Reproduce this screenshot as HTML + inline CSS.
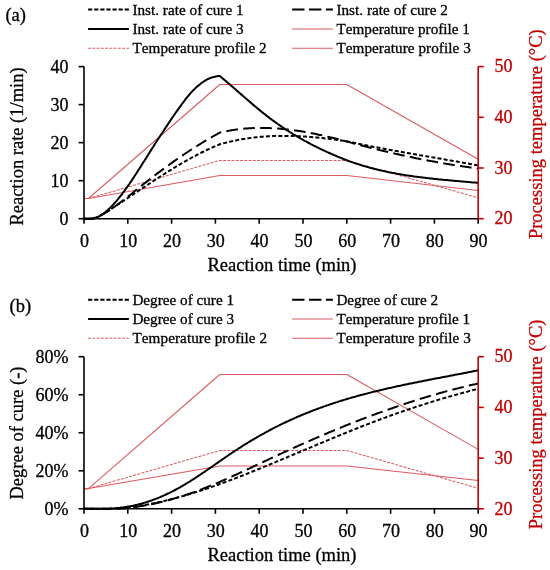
<!DOCTYPE html>
<html><head><meta charset="utf-8"><style>
html,body{margin:0;padding:0;background:#fff;}
svg{display:block;}
text{font-family:'Liberation Serif','Times New Roman',serif;fill:#000;stroke:#000;stroke-width:0.3px;font-kerning:none;}
.rd{stroke:#C00000;}
.tl{font-size:18px;}
.al{font-size:18.5px;}
.lg{font-size:15.2px;}
.rd{fill:#C00000;}
</style></head><body>
<svg width="550" height="570" viewBox="0 0 550 570">
<rect width="550" height="570" fill="#fff"/>
<line x1="88.1" y1="9.6" x2="128.89999999999998" y2="9.6" stroke="#000" stroke-width="2.0" stroke-dasharray="4.2 1.9" fill="none"/>
<text x="132.4" y="14.6" class="lg" textLength="111.21" lengthAdjust="spacing">Inst. rate of cure 1</text>
<line x1="292.1" y1="9.6" x2="332.90000000000003" y2="9.6" stroke="#000" stroke-width="2.0" stroke-dasharray="12.4 4.5" fill="none"/>
<text x="336.4" y="14.6" class="lg" textLength="111.41" lengthAdjust="spacing">Inst. rate of cure 2</text>
<line x1="88.1" y1="28.9" x2="128.89999999999998" y2="28.9" stroke="#000" stroke-width="2.0" fill="none"/>
<text x="132.4" y="33.9" class="lg" textLength="111.31" lengthAdjust="spacing">Inst. rate of cure 3</text>
<line x1="292.1" y1="28.9" x2="332.90000000000003" y2="28.9" stroke="#DC5A60" stroke-width="1.05" fill="none"/>
<text x="336.4" y="33.9" class="lg" textLength="133.55" lengthAdjust="spacing">Temperature profile 1</text>
<line x1="88.1" y1="48.2" x2="128.89999999999998" y2="48.2" stroke="#DC5A60" stroke-width="1.05" stroke-dasharray="2.9 1.35" fill="none"/>
<text x="132.4" y="53.2" class="lg" textLength="134.25" lengthAdjust="spacing">Temperature profile 2</text>
<line x1="292.1" y1="48.2" x2="332.90000000000003" y2="48.2" stroke="#DC5A60" stroke-width="1.05" fill="none"/>
<text x="336.4" y="53.2" class="lg" textLength="134.35" lengthAdjust="spacing">Temperature profile 3</text>
<path d="M84.0,198.5 88.4,198.5 219.8,175.4 346.8,175.4 478.2,190.5" stroke="#DC5A60" stroke-width="1.05" fill="none" stroke-linejoin="round"/>
<path d="M84.0,198.5 88.4,198.5 219.8,160.4 346.8,160.4 478.2,197.8" stroke="#DC5A60" stroke-width="1.05" stroke-dasharray="2.9 1.35" fill="none" stroke-linejoin="round"/>
<path d="M84.0,198.5 88.4,198.5 219.8,84.5 346.8,84.5 478.2,159.3" stroke="#DC5A60" stroke-width="1.05" fill="none" stroke-linejoin="round"/>
<path d="M84.0,218.7 85.0,218.7 86.0,218.7 87.0,218.7 88.0,218.7 89.0,218.7 90.0,218.7 91.0,218.7 92.0,218.7 93.1,218.5 94.1,218.2 95.1,217.9 96.1,217.5 97.1,217.1 98.1,216.7 99.1,216.2 100.1,215.7 101.1,215.2 102.1,214.6 103.1,214.1 104.1,213.5 105.1,212.9 106.1,212.2 107.1,211.6 108.1,210.9 109.1,210.3 110.2,209.6 111.2,208.9 112.2,208.3 113.2,207.6 114.2,206.9 115.2,206.3 116.2,205.6 117.2,204.9 118.2,204.3 119.2,203.6 120.2,202.9 121.2,202.3 122.2,201.6 123.2,200.9 124.2,200.3 125.2,199.6 126.2,198.9 127.3,198.3 128.3,197.6 129.3,196.9 130.3,196.3 131.3,195.6 132.3,194.9 133.3,194.3 134.3,193.6 135.3,192.9 136.3,192.3 137.3,191.6 138.3,190.9 139.3,190.3 140.3,189.6 141.3,188.9 142.3,188.3 143.3,187.6 144.4,186.9 145.4,186.3 146.4,185.6 147.4,184.9 148.4,184.3 149.4,183.6 150.4,183.0 151.4,182.3 152.4,181.6 153.4,181.0 154.4,180.3 155.4,179.7 156.4,179.0 157.4,178.4 158.4,177.7 159.4,177.1 160.5,176.4 161.5,175.8 162.5,175.1 163.5,174.5 164.5,173.9 165.5,173.2 166.5,172.6 167.5,172.0 168.5,171.3 169.5,170.7 170.5,170.1 171.5,169.5 172.5,168.8 173.5,168.2 174.5,167.6 175.5,167.0 176.5,166.4 177.6,165.8 178.6,165.2 179.6,164.6 180.6,164.0 181.6,163.4 182.6,162.8 183.6,162.2 184.6,161.7 185.6,161.1 186.6,160.5 187.6,160.0 188.6,159.4 189.6,158.8 190.6,158.3 191.6,157.7 192.6,157.2 193.6,156.6 194.7,156.1 195.7,155.6 196.7,155.0 197.7,154.5 198.7,154.0 199.7,153.5 200.7,153.0 201.7,152.5 202.7,152.0 203.7,151.5 204.7,151.0 205.7,150.5 206.7,150.0 207.7,149.5 208.7,149.1 209.7,148.6 210.7,148.1 211.8,147.7 212.8,147.2 213.8,146.8 214.8,146.4 215.8,145.9 216.8,145.5 217.8,145.1 218.8,144.7 219.8,144.3 220.8,144.0 221.8,143.7 222.8,143.5 223.8,143.2 224.8,142.9 225.8,142.7 226.8,142.4 227.8,142.2 228.8,142.0 229.8,141.7 230.8,141.5 231.8,141.3 232.8,141.0 233.8,140.8 234.8,140.6 235.8,140.4 236.8,140.2 237.8,140.0 238.8,139.8 239.8,139.7 240.8,139.5 241.8,139.3 242.8,139.1 243.8,139.0 244.8,138.8 245.8,138.6 246.8,138.5 247.8,138.3 248.8,138.2 249.8,138.1 250.8,137.9 251.8,137.8 252.8,137.7 253.8,137.6 254.8,137.4 255.8,137.3 256.8,137.2 257.8,137.1 258.8,137.0 259.8,136.9 260.8,136.8 261.8,136.8 262.8,136.7 263.8,136.6 264.8,136.5 265.8,136.5 266.8,136.4 267.8,136.3 268.8,136.3 269.8,136.2 270.8,136.2 271.8,136.1 272.8,136.1 273.8,136.0 274.8,136.0 275.8,136.0 276.8,136.0 277.8,135.9 278.8,135.9 279.8,135.9 280.8,135.9 281.8,135.9 282.8,135.9 283.8,135.9 284.8,135.9 285.8,135.9 286.8,135.9 287.8,135.9 288.8,135.9 289.8,135.9 290.8,135.9 291.8,136.0 292.8,136.0 293.8,136.0 294.8,136.1 295.8,136.1 296.8,136.1 297.8,136.2 298.8,136.2 299.8,136.3 300.8,136.3 301.8,136.4 302.8,136.4 303.8,136.5 304.8,136.6 305.8,136.6 306.8,136.7 307.8,136.8 308.8,136.8 309.8,136.9 310.8,137.0 311.8,137.1 312.8,137.2 313.8,137.2 314.8,137.3 315.8,137.4 316.8,137.5 317.8,137.6 318.8,137.7 319.8,137.8 320.8,137.9 321.8,138.0 322.8,138.1 323.8,138.2 324.8,138.4 325.8,138.5 326.8,138.6 327.8,138.7 328.8,138.8 329.8,138.9 330.8,139.1 331.8,139.2 332.8,139.3 333.8,139.5 334.8,139.6 335.8,139.7 336.8,139.9 337.8,140.0 338.8,140.1 339.8,140.3 340.8,140.4 341.8,140.6 342.8,140.7 343.8,140.8 344.8,141.0 345.8,141.1 346.8,141.3 347.8,141.5 348.8,141.7 349.8,142.0 350.8,142.2 351.8,142.4 352.8,142.6 353.8,142.8 354.8,143.0 355.8,143.2 356.8,143.4 357.8,143.7 358.8,143.9 359.8,144.1 360.8,144.3 361.8,144.5 362.8,144.7 363.9,144.9 364.9,145.1 365.9,145.3 366.9,145.5 367.9,145.7 368.9,145.9 369.9,146.1 370.9,146.3 371.9,146.5 372.9,146.7 373.9,146.9 374.9,147.1 375.9,147.3 376.9,147.4 377.9,147.6 378.9,147.8 379.9,148.0 380.9,148.2 381.9,148.4 382.9,148.6 383.9,148.8 384.9,149.0 385.9,149.1 386.9,149.3 387.9,149.5 388.9,149.7 389.9,149.9 390.9,150.1 391.9,150.2 392.9,150.4 393.9,150.6 394.9,150.8 395.9,151.0 397.0,151.1 398.0,151.3 399.0,151.5 400.0,151.7 401.0,151.9 402.0,152.0 403.0,152.2 404.0,152.4 405.0,152.6 406.0,152.7 407.0,152.9 408.0,153.1 409.0,153.3 410.0,153.5 411.0,153.6 412.0,153.8 413.0,154.0 414.0,154.1 415.0,154.3 416.0,154.5 417.0,154.7 418.0,154.8 419.0,155.0 420.0,155.2 421.0,155.4 422.0,155.5 423.0,155.7 424.0,155.9 425.0,156.1 426.0,156.2 427.0,156.4 428.0,156.6 429.1,156.7 430.1,156.9 431.1,157.1 432.1,157.3 433.1,157.4 434.1,157.6 435.1,157.8 436.1,158.0 437.1,158.1 438.1,158.3 439.1,158.5 440.1,158.6 441.1,158.8 442.1,159.0 443.1,159.2 444.1,159.3 445.1,159.5 446.1,159.7 447.1,159.9 448.1,160.0 449.1,160.2 450.1,160.4 451.1,160.6 452.1,160.7 453.1,160.9 454.1,161.1 455.1,161.3 456.1,161.5 457.1,161.6 458.1,161.8 459.1,162.0 460.1,162.2 461.1,162.4 462.2,162.5 463.2,162.7 464.2,162.9 465.2,163.1 466.2,163.3 467.2,163.4 468.2,163.6 469.2,163.8 470.2,164.0 471.2,164.2 472.2,164.4 473.2,164.6 474.2,164.7 475.2,164.9 476.2,165.1 477.2,165.3 478.2,165.5" stroke="#000" stroke-width="2.0" stroke-dasharray="4.0 2.2" fill="none" stroke-dashoffset="1.35" stroke-linejoin="round"/>
<path d="M84.0,218.7 85.0,218.7 86.0,218.7 87.0,218.7 88.0,218.7 89.0,218.7 90.0,218.7 91.0,218.6 92.0,218.4 93.1,218.2 94.1,217.9 95.1,217.6 96.1,217.3 97.1,216.9 98.1,216.5 99.1,216.1 100.1,215.6 101.1,215.2 102.1,214.6 103.1,214.1 104.1,213.5 105.1,213.0 106.1,212.4 107.1,211.7 108.1,211.1 109.1,210.5 110.2,209.8 111.2,209.1 112.2,208.4 113.2,207.7 114.2,207.0 115.2,206.3 116.2,205.6 117.2,204.8 118.2,204.1 119.2,203.4 120.2,202.6 121.2,201.8 122.2,201.1 123.2,200.3 124.2,199.5 125.2,198.7 126.2,198.0 127.3,197.2 128.3,196.4 129.3,195.6 130.3,194.8 131.3,194.0 132.3,193.2 133.3,192.4 134.3,191.5 135.3,190.7 136.3,189.9 137.3,189.1 138.3,188.3 139.3,187.5 140.3,186.7 141.3,185.9 142.3,185.1 143.3,184.3 144.4,183.5 145.4,182.7 146.4,181.9 147.4,181.1 148.4,180.3 149.4,179.6 150.4,178.8 151.4,178.0 152.4,177.2 153.4,176.5 154.4,175.7 155.4,174.9 156.4,174.2 157.4,173.4 158.4,172.6 159.4,171.9 160.5,171.1 161.5,170.4 162.5,169.6 163.5,168.9 164.5,168.2 165.5,167.4 166.5,166.7 167.5,166.0 168.5,165.2 169.5,164.5 170.5,163.8 171.5,163.1 172.5,162.3 173.5,161.6 174.5,160.9 175.5,160.2 176.5,159.5 177.6,158.8 178.6,158.1 179.6,157.4 180.6,156.7 181.6,156.0 182.6,155.4 183.6,154.7 184.6,154.0 185.6,153.3 186.6,152.7 187.6,152.0 188.6,151.3 189.6,150.7 190.6,150.0 191.6,149.4 192.6,148.7 193.6,148.1 194.7,147.4 195.7,146.8 196.7,146.2 197.7,145.5 198.7,144.9 199.7,144.3 200.7,143.7 201.7,143.0 202.7,142.4 203.7,141.8 204.7,141.2 205.7,140.6 206.7,140.0 207.7,139.4 208.7,138.8 209.7,138.2 210.7,137.7 211.8,137.1 212.8,136.5 213.8,135.9 214.8,135.4 215.8,134.8 216.8,134.3 217.8,133.7 218.8,133.1 219.8,132.6 220.8,132.4 221.8,132.1 222.8,131.9 223.8,131.7 224.8,131.5 225.8,131.3 226.8,131.1 227.8,130.9 228.8,130.7 229.8,130.6 230.8,130.4 231.8,130.2 232.8,130.1 233.8,129.9 234.8,129.8 235.8,129.6 236.8,129.5 237.8,129.4 238.8,129.3 239.8,129.1 240.8,129.0 241.8,128.9 242.8,128.8 243.8,128.7 244.8,128.6 245.8,128.6 246.8,128.5 247.8,128.4 248.8,128.3 249.8,128.3 250.8,128.2 251.8,128.2 252.8,128.1 253.8,128.1 254.8,128.1 255.8,128.0 256.8,128.0 257.8,128.0 258.8,128.0 259.8,127.9 260.8,127.9 261.8,127.9 262.8,127.9 263.8,128.0 264.8,128.0 265.8,128.0 266.8,128.0 267.8,128.0 268.8,128.1 269.8,128.1 270.8,128.2 271.8,128.2 272.8,128.2 273.8,128.3 274.8,128.4 275.8,128.4 276.8,128.5 277.8,128.6 278.8,128.6 279.8,128.7 280.8,128.8 281.8,128.9 282.8,129.0 283.8,129.1 284.8,129.2 285.8,129.3 286.8,129.4 287.8,129.5 288.8,129.6 289.8,129.7 290.8,129.9 291.8,130.0 292.8,130.1 293.8,130.3 294.8,130.4 295.8,130.5 296.8,130.7 297.8,130.8 298.8,131.0 299.8,131.1 300.8,131.3 301.8,131.5 302.8,131.6 303.8,131.8 304.8,132.0 305.8,132.1 306.8,132.3 307.8,132.5 308.8,132.7 309.8,132.9 310.8,133.1 311.8,133.2 312.8,133.4 313.8,133.6 314.8,133.8 315.8,134.0 316.8,134.2 317.8,134.5 318.8,134.7 319.8,134.9 320.8,135.1 321.8,135.3 322.8,135.5 323.8,135.8 324.8,136.0 325.8,136.2 326.8,136.5 327.8,136.7 328.8,136.9 329.8,137.2 330.8,137.4 331.8,137.6 332.8,137.9 333.8,138.1 334.8,138.4 335.8,138.6 336.8,138.9 337.8,139.1 338.8,139.4 339.8,139.6 340.8,139.9 341.8,140.2 342.8,140.4 343.8,140.7 344.8,141.0 345.8,141.2 346.8,141.5 347.8,141.8 348.8,142.1 349.8,142.3 350.8,142.6 351.8,142.9 352.8,143.2 353.8,143.4 354.8,143.7 355.8,144.0 356.8,144.2 357.8,144.5 358.8,144.8 359.8,145.0 360.8,145.3 361.8,145.6 362.8,145.8 363.9,146.1 364.9,146.4 365.9,146.6 366.9,146.9 367.9,147.1 368.9,147.4 369.9,147.6 370.9,147.9 371.9,148.1 372.9,148.4 373.9,148.6 374.9,148.9 375.9,149.1 376.9,149.4 377.9,149.6 378.9,149.9 379.9,150.1 380.9,150.4 381.9,150.6 382.9,150.9 383.9,151.1 384.9,151.3 385.9,151.6 386.9,151.8 387.9,152.0 388.9,152.3 389.9,152.5 390.9,152.7 391.9,153.0 392.9,153.2 393.9,153.4 394.9,153.6 395.9,153.9 397.0,154.1 398.0,154.3 399.0,154.5 400.0,154.8 401.0,155.0 402.0,155.2 403.0,155.4 404.0,155.6 405.0,155.9 406.0,156.1 407.0,156.3 408.0,156.5 409.0,156.7 410.0,156.9 411.0,157.1 412.0,157.3 413.0,157.5 414.0,157.7 415.0,157.9 416.0,158.2 417.0,158.4 418.0,158.6 419.0,158.8 420.0,159.0 421.0,159.2 422.0,159.3 423.0,159.5 424.0,159.7 425.0,159.9 426.0,160.1 427.0,160.3 428.0,160.5 429.1,160.7 430.1,160.9 431.1,161.1 432.1,161.2 433.1,161.4 434.1,161.6 435.1,161.8 436.1,162.0 437.1,162.2 438.1,162.3 439.1,162.5 440.1,162.7 441.1,162.9 442.1,163.0 443.1,163.2 444.1,163.4 445.1,163.5 446.1,163.7 447.1,163.9 448.1,164.0 449.1,164.2 450.1,164.4 451.1,164.5 452.1,164.7 453.1,164.9 454.1,165.0 455.1,165.2 456.1,165.3 457.1,165.5 458.1,165.6 459.1,165.8 460.1,166.0 461.1,166.1 462.2,166.3 463.2,166.4 464.2,166.6 465.2,166.7 466.2,166.8 467.2,167.0 468.2,167.1 469.2,167.3 470.2,167.4 471.2,167.6 472.2,167.7 473.2,167.8 474.2,168.0 475.2,168.1 476.2,168.2 477.2,168.4 478.2,168.5" stroke="#000" stroke-width="2.0" stroke-dasharray="11.7 5.3" fill="none" stroke-dashoffset="0.65" stroke-linejoin="round"/>
<path d="M84.0,218.7 85.0,218.7 86.0,218.7 87.0,218.7 88.0,218.7 89.0,218.7 90.0,218.7 91.0,218.7 92.0,218.7 93.1,218.7 94.1,218.5 95.1,218.1 96.1,217.7 97.1,217.3 98.1,216.8 99.1,216.3 100.1,215.8 101.1,215.1 102.1,214.5 103.1,213.8 104.1,213.0 105.1,212.3 106.1,211.4 107.1,210.6 108.1,209.7 109.1,208.7 110.2,207.8 111.2,206.8 112.2,205.7 113.2,204.6 114.2,203.5 115.2,202.4 116.2,201.3 117.2,200.1 118.2,198.9 119.2,197.6 120.2,196.4 121.2,195.1 122.2,193.8 123.2,192.4 124.2,191.1 125.2,189.7 126.2,188.3 127.3,186.9 128.3,185.4 129.3,184.0 130.3,182.5 131.3,181.1 132.3,179.6 133.3,178.0 134.3,176.5 135.3,175.0 136.3,173.5 137.3,171.9 138.3,170.3 139.3,168.8 140.3,167.2 141.3,165.6 142.3,164.0 143.3,162.4 144.4,160.8 145.4,159.2 146.4,157.6 147.4,156.0 148.4,154.4 149.4,152.8 150.4,151.2 151.4,149.6 152.4,148.0 153.4,146.5 154.4,144.9 155.4,143.3 156.4,141.7 157.4,140.2 158.4,138.6 159.4,137.1 160.5,135.5 161.5,134.0 162.5,132.5 163.5,131.0 164.5,129.4 165.5,127.9 166.5,126.4 167.5,124.9 168.5,123.4 169.5,121.9 170.5,120.4 171.5,118.9 172.5,117.4 173.5,116.0 174.5,114.5 175.5,113.0 176.5,111.6 177.6,110.1 178.6,108.7 179.6,107.3 180.6,105.9 181.6,104.5 182.6,103.1 183.6,101.8 184.6,100.5 185.6,99.2 186.6,97.9 187.6,96.7 188.6,95.5 189.6,94.3 190.6,93.1 191.6,92.0 192.6,91.0 193.6,89.9 194.7,88.9 195.7,87.9 196.7,87.0 197.7,86.1 198.7,85.3 199.7,84.4 200.7,83.7 201.7,82.9 202.7,82.2 203.7,81.5 204.7,80.9 205.7,80.3 206.7,79.7 207.7,79.2 208.7,78.7 209.7,78.3 210.7,77.9 211.8,77.5 212.8,77.2 213.8,76.9 214.8,76.7 215.8,76.4 216.8,76.3 217.8,76.1 218.8,76.1 219.8,76.0 220.8,76.8 221.8,77.7 222.8,78.5 223.8,79.4 224.8,80.2 225.8,81.1 226.8,81.9 227.8,82.8 228.8,83.6 229.8,84.5 230.8,85.4 231.8,86.2 232.8,87.1 233.8,88.0 234.8,88.8 235.8,89.7 236.8,90.6 237.8,91.4 238.8,92.3 239.8,93.2 240.8,94.1 241.8,94.9 242.8,95.8 243.8,96.7 244.8,97.5 245.8,98.4 246.8,99.3 247.8,100.1 248.8,101.0 249.8,101.8 250.8,102.7 251.8,103.6 252.8,104.4 253.8,105.3 254.8,106.1 255.8,106.9 256.8,107.8 257.8,108.6 258.8,109.4 259.8,110.3 260.8,111.1 261.8,111.9 262.8,112.7 263.8,113.5 264.8,114.3 265.8,115.1 266.8,115.9 267.8,116.6 268.8,117.4 269.8,118.2 270.8,118.9 271.8,119.7 272.8,120.4 273.8,121.1 274.8,121.9 275.8,122.6 276.8,123.3 277.8,124.0 278.8,124.7 279.8,125.4 280.8,126.1 281.8,126.8 282.8,127.5 283.8,128.1 284.8,128.8 285.8,129.5 286.8,130.1 287.8,130.7 288.8,131.4 289.8,132.0 290.8,132.6 291.8,133.3 292.8,133.9 293.8,134.5 294.8,135.1 295.8,135.7 296.8,136.3 297.8,136.9 298.8,137.5 299.8,138.0 300.8,138.6 301.8,139.2 302.8,139.7 303.8,140.3 304.8,140.9 305.8,141.4 306.8,141.9 307.8,142.5 308.8,143.0 309.8,143.5 310.8,144.1 311.8,144.6 312.8,145.1 313.8,145.6 314.8,146.1 315.8,146.6 316.8,147.1 317.8,147.6 318.8,148.1 319.8,148.6 320.8,149.1 321.8,149.5 322.8,150.0 323.8,150.5 324.8,150.9 325.8,151.4 326.8,151.9 327.8,152.3 328.8,152.8 329.8,153.2 330.8,153.6 331.8,154.1 332.8,154.5 333.8,155.0 334.8,155.4 335.8,155.8 336.8,156.2 337.8,156.7 338.8,157.1 339.8,157.5 340.8,157.9 341.8,158.3 342.8,158.7 343.8,159.1 344.8,159.5 345.8,159.9 346.8,160.3 347.8,160.7 348.8,161.0 349.8,161.4 350.8,161.7 351.8,162.1 352.8,162.4 353.8,162.8 354.8,163.1 355.8,163.5 356.8,163.8 357.8,164.1 358.8,164.4 359.8,164.7 360.8,165.0 361.8,165.4 362.8,165.7 363.9,166.0 364.9,166.2 365.9,166.5 366.9,166.8 367.9,167.1 368.9,167.4 369.9,167.7 370.9,167.9 371.9,168.2 372.9,168.4 373.9,168.7 374.9,169.0 375.9,169.2 376.9,169.5 377.9,169.7 378.9,169.9 379.9,170.2 380.9,170.4 381.9,170.6 382.9,170.9 383.9,171.1 384.9,171.3 385.9,171.5 386.9,171.7 387.9,171.9 388.9,172.2 389.9,172.4 390.9,172.6 391.9,172.8 392.9,172.9 393.9,173.1 394.9,173.3 395.9,173.5 397.0,173.7 398.0,173.9 399.0,174.1 400.0,174.2 401.0,174.4 402.0,174.6 403.0,174.7 404.0,174.9 405.0,175.1 406.0,175.2 407.0,175.4 408.0,175.5 409.0,175.7 410.0,175.8 411.0,176.0 412.0,176.1 413.0,176.3 414.0,176.4 415.0,176.6 416.0,176.7 417.0,176.8 418.0,177.0 419.0,177.1 420.0,177.2 421.0,177.3 422.0,177.5 423.0,177.6 424.0,177.7 425.0,177.8 426.0,178.0 427.0,178.1 428.0,178.2 429.1,178.3 430.1,178.4 431.1,178.5 432.1,178.6 433.1,178.7 434.1,178.9 435.1,179.0 436.1,179.1 437.1,179.2 438.1,179.3 439.1,179.4 440.1,179.5 441.1,179.6 442.1,179.7 443.1,179.8 444.1,179.9 445.1,180.0 446.1,180.1 447.1,180.1 448.1,180.2 449.1,180.3 450.1,180.4 451.1,180.5 452.1,180.6 453.1,180.7 454.1,180.8 455.1,180.9 456.1,181.0 457.1,181.1 458.1,181.1 459.1,181.2 460.1,181.3 461.1,181.4 462.2,181.5 463.2,181.6 464.2,181.7 465.2,181.8 466.2,181.8 467.2,181.9 468.2,182.0 469.2,182.1 470.2,182.2 471.2,182.3 472.2,182.4 473.2,182.5 474.2,182.5 475.2,182.6 476.2,182.7 477.2,182.8 478.2,182.9" stroke="#000" stroke-width="2.0" fill="none" stroke-linejoin="round"/>
<path d="M84.0,66.6V218.7H478.2" stroke="#000" stroke-width="1.6" fill="none"/>
<line x1="78.6" y1="218.70" x2="84.0" y2="218.70" stroke="#000" stroke-width="1.6"/>
<text x="68.4" y="224.80" text-anchor="end" class="tl">0</text>
<line x1="78.6" y1="180.67" x2="84.0" y2="180.67" stroke="#000" stroke-width="1.6"/>
<text x="68.4" y="186.77" text-anchor="end" class="tl">10</text>
<line x1="78.6" y1="142.65" x2="84.0" y2="142.65" stroke="#000" stroke-width="1.6"/>
<text x="68.4" y="148.75" text-anchor="end" class="tl">20</text>
<line x1="78.6" y1="104.62" x2="84.0" y2="104.62" stroke="#000" stroke-width="1.6"/>
<text x="68.4" y="110.72" text-anchor="end" class="tl">30</text>
<line x1="78.6" y1="66.60" x2="84.0" y2="66.60" stroke="#000" stroke-width="1.6"/>
<text x="68.4" y="72.70" text-anchor="end" class="tl">40</text>
<line x1="84.00" y1="218.7" x2="84.00" y2="223.7" stroke="#000" stroke-width="1.6"/>
<text x="84.40" y="246.80" text-anchor="middle" class="tl">0</text>
<line x1="127.80" y1="218.7" x2="127.80" y2="223.7" stroke="#000" stroke-width="1.6"/>
<text x="128.20" y="246.80" text-anchor="middle" class="tl">10</text>
<line x1="171.60" y1="218.7" x2="171.60" y2="223.7" stroke="#000" stroke-width="1.6"/>
<text x="172.00" y="246.80" text-anchor="middle" class="tl">20</text>
<line x1="215.40" y1="218.7" x2="215.40" y2="223.7" stroke="#000" stroke-width="1.6"/>
<text x="215.80" y="246.80" text-anchor="middle" class="tl">30</text>
<line x1="259.20" y1="218.7" x2="259.20" y2="223.7" stroke="#000" stroke-width="1.6"/>
<text x="259.60" y="246.80" text-anchor="middle" class="tl">40</text>
<line x1="303.00" y1="218.7" x2="303.00" y2="223.7" stroke="#000" stroke-width="1.6"/>
<text x="303.40" y="246.80" text-anchor="middle" class="tl">50</text>
<line x1="346.80" y1="218.7" x2="346.80" y2="223.7" stroke="#000" stroke-width="1.6"/>
<text x="347.20" y="246.80" text-anchor="middle" class="tl">60</text>
<line x1="390.60" y1="218.7" x2="390.60" y2="223.7" stroke="#000" stroke-width="1.6"/>
<text x="391.00" y="246.80" text-anchor="middle" class="tl">70</text>
<line x1="434.40" y1="218.7" x2="434.40" y2="223.7" stroke="#000" stroke-width="1.6"/>
<text x="434.80" y="246.80" text-anchor="middle" class="tl">80</text>
<line x1="478.20" y1="218.7" x2="478.20" y2="223.7" stroke="#000" stroke-width="1.6"/>
<text x="478.60" y="246.80" text-anchor="middle" class="tl">90</text>
<text x="282" y="270.5" text-anchor="middle" class="al">Reaction time (min)</text>
<line x1="478.2" y1="66.6" x2="478.2" y2="218.7" stroke="#C00000" stroke-width="1.6"/>
<line x1="478.2" y1="218.70" x2="483.8" y2="218.70" stroke="#C00000" stroke-width="1.6"/>
<text x="494.59999999999997" y="224.40" class="tl rd">20</text>
<line x1="478.2" y1="168.00" x2="483.8" y2="168.00" stroke="#C00000" stroke-width="1.6"/>
<text x="494.59999999999997" y="173.70" class="tl rd">30</text>
<line x1="478.2" y1="117.30" x2="483.8" y2="117.30" stroke="#C00000" stroke-width="1.6"/>
<text x="494.59999999999997" y="123.00" class="tl rd">40</text>
<line x1="478.2" y1="66.60" x2="483.8" y2="66.60" stroke="#C00000" stroke-width="1.6"/>
<text x="494.59999999999997" y="72.30" class="tl rd">50</text>
<text transform="translate(542,134.2) rotate(-90)" text-anchor="middle" class="al rd">Processing temperature (°C)</text>
<text transform="translate(23,146.5) rotate(-90)" text-anchor="middle" class="al">Reaction rate (1/min)</text>
<text x="5.4" y="20.8" class="al">(a)</text>
<line x1="88.1" y1="299.7" x2="128.89999999999998" y2="299.7" stroke="#000" stroke-width="2.0" stroke-dasharray="4.2 1.9" fill="none"/>
<text x="132.4" y="304.7" class="lg" textLength="101.62" lengthAdjust="spacing">Degree of cure 1</text>
<line x1="292.1" y1="299.7" x2="332.90000000000003" y2="299.7" stroke="#000" stroke-width="2.0" stroke-dasharray="12.4 4.5" fill="none"/>
<text x="336.4" y="304.7" class="lg" textLength="101.62" lengthAdjust="spacing">Degree of cure 2</text>
<line x1="88.1" y1="319.0" x2="128.89999999999998" y2="319.0" stroke="#000" stroke-width="2.0" fill="none"/>
<text x="132.4" y="324.0" class="lg" textLength="101.62" lengthAdjust="spacing">Degree of cure 3</text>
<line x1="292.1" y1="319.0" x2="332.90000000000003" y2="319.0" stroke="#DC5A60" stroke-width="1.05" fill="none"/>
<text x="336.4" y="324.0" class="lg" textLength="133.75" lengthAdjust="spacing">Temperature profile 1</text>
<line x1="88.1" y1="338.3" x2="128.89999999999998" y2="338.3" stroke="#DC5A60" stroke-width="1.05" stroke-dasharray="2.9 1.35" fill="none"/>
<text x="132.4" y="343.3" class="lg" textLength="134.75" lengthAdjust="spacing">Temperature profile 2</text>
<line x1="292.1" y1="338.3" x2="332.90000000000003" y2="338.3" stroke="#DC5A60" stroke-width="1.05" fill="none"/>
<text x="336.4" y="343.3" class="lg" textLength="134.35" lengthAdjust="spacing">Temperature profile 3</text>
<path d="M84.0,488.6 88.4,488.6 219.8,465.9 346.8,465.9 478.2,480.6" stroke="#DC5A60" stroke-width="1.05" fill="none" stroke-linejoin="round"/>
<path d="M84.0,488.6 88.4,488.6 219.8,450.5 346.8,450.5 478.2,488.3" stroke="#DC5A60" stroke-width="1.05" stroke-dasharray="2.9 1.35" fill="none" stroke-linejoin="round"/>
<path d="M84.0,488.6 88.4,488.6 219.8,374.5 346.8,374.5 478.2,449.4" stroke="#DC5A60" stroke-width="1.05" fill="none" stroke-linejoin="round"/>
<path d="M84.0,508.8 85.0,508.8 86.0,508.8 87.0,508.8 88.0,508.8 89.0,508.8 90.0,508.8 91.0,508.8 92.0,508.8 93.0,508.8 94.0,508.8 95.0,508.8 96.0,508.8 97.0,508.8 98.0,508.8 99.0,508.8 100.0,508.8 101.0,508.8 102.0,508.8 103.0,508.8 104.0,508.8 105.0,508.8 106.0,508.8 107.0,508.8 108.0,508.8 109.0,508.8 110.0,508.8 111.0,508.8 112.0,508.8 113.0,508.8 114.0,508.7 115.0,508.7 116.0,508.6 117.0,508.5 118.0,508.4 119.0,508.4 120.0,508.3 121.0,508.2 122.0,508.1 123.0,508.0 124.0,507.9 125.0,507.8 126.0,507.7 127.0,507.6 128.0,507.4 129.0,507.3 130.0,507.2 131.0,507.1 132.0,506.9 133.0,506.8 134.0,506.7 135.0,506.5 136.0,506.4 137.0,506.2 138.0,506.1 139.0,505.9 140.0,505.8 141.0,505.6 142.0,505.4 143.0,505.3 144.0,505.1 145.0,504.9 146.0,504.7 147.0,504.6 148.0,504.4 149.0,504.2 150.0,504.0 151.0,503.8 152.0,503.6 153.0,503.4 154.0,503.2 155.0,503.0 156.0,502.8 157.0,502.6 158.0,502.3 159.0,502.1 160.0,501.9 161.0,501.7 162.0,501.4 163.0,501.2 164.0,501.0 165.0,500.7 166.0,500.5 167.0,500.3 168.0,500.0 169.0,499.8 170.0,499.5 171.0,499.3 172.0,499.0 173.0,498.7 174.0,498.5 175.0,498.2 176.0,498.0 177.0,497.7 178.0,497.4 179.0,497.1 180.0,496.9 181.0,496.6 182.0,496.3 183.1,496.0 184.1,495.7 185.1,495.4 186.1,495.1 187.1,494.8 188.1,494.6 189.1,494.3 190.1,494.0 191.1,493.6 192.1,493.3 193.1,493.0 194.1,492.7 195.1,492.4 196.1,492.1 197.1,491.8 198.1,491.5 199.1,491.1 200.1,490.8 201.1,490.5 202.1,490.2 203.1,489.8 204.1,489.5 205.1,489.2 206.1,488.8 207.1,488.5 208.1,488.2 209.1,487.8 210.1,487.5 211.1,487.1 212.1,486.8 213.1,486.4 214.1,486.1 215.1,485.7 216.1,485.4 217.1,485.0 218.1,484.7 219.1,484.3 220.1,483.9 221.1,483.6 222.1,483.2 223.1,482.9 224.1,482.5 225.1,482.1 226.1,481.8 227.1,481.4 228.1,481.0 229.1,480.6 230.1,480.3 231.1,479.9 232.1,479.5 233.1,479.1 234.1,478.7 235.1,478.4 236.1,478.0 237.1,477.6 238.1,477.2 239.1,476.8 240.1,476.4 241.1,476.0 242.1,475.7 243.1,475.3 244.1,474.9 245.1,474.5 246.1,474.1 247.1,473.7 248.1,473.3 249.1,472.9 250.1,472.5 251.1,472.1 252.1,471.7 253.1,471.3 254.1,470.9 255.1,470.5 256.1,470.1 257.1,469.7 258.1,469.3 259.1,468.9 260.1,468.5 261.1,468.0 262.1,467.6 263.1,467.2 264.1,466.8 265.1,466.4 266.1,466.0 267.1,465.6 268.1,465.2 269.1,464.8 270.1,464.3 271.1,463.9 272.1,463.5 273.1,463.1 274.1,462.7 275.1,462.3 276.1,461.9 277.1,461.4 278.1,461.0 279.1,460.6 280.1,460.2 281.1,459.8 282.1,459.4 283.1,458.9 284.1,458.5 285.1,458.1 286.1,457.7 287.1,457.3 288.1,456.8 289.1,456.4 290.1,456.0 291.1,455.6 292.1,455.2 293.1,454.7 294.1,454.3 295.1,453.9 296.1,453.5 297.1,453.1 298.1,452.6 299.1,452.2 300.1,451.8 301.1,451.4 302.1,451.0 303.1,450.5 304.1,450.1 305.1,449.7 306.1,449.3 307.1,448.8 308.1,448.4 309.1,448.0 310.1,447.6 311.1,447.2 312.1,446.7 313.1,446.3 314.1,445.9 315.1,445.5 316.1,445.1 317.1,444.6 318.1,444.2 319.1,443.8 320.1,443.4 321.1,443.0 322.1,442.6 323.1,442.1 324.1,441.7 325.1,441.3 326.1,440.9 327.1,440.5 328.1,440.1 329.1,439.6 330.1,439.2 331.1,438.8 332.1,438.4 333.1,438.0 334.1,437.6 335.1,437.2 336.1,436.8 337.1,436.3 338.1,435.9 339.1,435.5 340.1,435.1 341.1,434.7 342.1,434.3 343.1,433.9 344.1,433.5 345.1,433.1 346.1,432.7 347.1,432.3 348.1,431.9 349.1,431.5 350.1,431.1 351.1,430.7 352.1,430.3 353.1,429.9 354.1,429.5 355.1,429.1 356.1,428.7 357.1,428.3 358.1,427.9 359.1,427.5 360.1,427.1 361.1,426.7 362.1,426.3 363.1,425.9 364.1,425.5 365.1,425.1 366.1,424.7 367.1,424.4 368.1,424.0 369.1,423.6 370.1,423.2 371.1,422.8 372.1,422.4 373.1,422.1 374.1,421.7 375.1,421.3 376.1,420.9 377.1,420.5 378.1,420.2 379.1,419.8 380.2,419.4 381.2,419.0 382.2,418.7 383.2,418.3 384.2,417.9 385.2,417.6 386.2,417.2 387.2,416.8 388.2,416.5 389.2,416.1 390.2,415.8 391.2,415.4 392.2,415.0 393.2,414.7 394.2,414.3 395.2,414.0 396.2,413.6 397.2,413.3 398.2,412.9 399.2,412.6 400.2,412.2 401.2,411.9 402.2,411.5 403.2,411.2 404.2,410.8 405.2,410.5 406.2,410.2 407.2,409.8 408.2,409.5 409.2,409.1 410.2,408.8 411.2,408.5 412.2,408.1 413.2,407.8 414.2,407.5 415.2,407.1 416.2,406.8 417.2,406.5 418.2,406.2 419.2,405.8 420.2,405.5 421.2,405.2 422.2,404.9 423.2,404.5 424.2,404.2 425.2,403.9 426.2,403.6 427.2,403.3 428.2,403.0 429.2,402.7 430.2,402.3 431.2,402.0 432.2,401.7 433.2,401.4 434.2,401.1 435.2,400.8 436.2,400.5 437.2,400.2 438.2,399.9 439.2,399.6 440.2,399.3 441.2,399.0 442.2,398.7 443.2,398.4 444.2,398.1 445.2,397.8 446.2,397.5 447.2,397.2 448.2,396.9 449.2,396.6 450.2,396.4 451.2,396.1 452.2,395.8 453.2,395.5 454.2,395.2 455.2,394.9 456.2,394.7 457.2,394.4 458.2,394.1 459.2,393.8 460.2,393.6 461.2,393.3 462.2,393.0 463.2,392.7 464.2,392.5 465.2,392.2 466.2,391.9 467.2,391.7 468.2,391.4 469.2,391.1 470.2,390.9 471.2,390.6 472.2,390.3 473.2,390.1 474.2,389.8 475.2,389.6 476.2,389.3 477.2,389.1 478.2,388.8" stroke="#000" stroke-width="2.0" stroke-dasharray="4.0 2.2" fill="none" stroke-dashoffset="0.54" stroke-linejoin="round"/>
<path d="M84.0,508.8 85.0,508.8 86.0,508.8 87.0,508.8 88.0,508.8 89.0,508.8 90.0,508.8 91.0,508.8 92.0,508.8 93.0,508.8 94.0,508.8 95.0,508.8 96.0,508.8 97.0,508.8 98.0,508.8 99.0,508.8 100.0,508.8 101.0,508.8 102.0,508.8 103.0,508.8 104.0,508.8 105.0,508.8 106.0,508.8 107.0,508.8 108.0,508.8 109.0,508.8 110.0,508.8 111.0,508.8 112.0,508.8 113.0,508.8 114.0,508.8 115.0,508.8 116.0,508.8 117.0,508.8 118.0,508.8 119.0,508.8 120.0,508.7 121.0,508.6 122.0,508.6 123.0,508.5 124.0,508.4 125.0,508.3 126.0,508.2 127.0,508.1 128.0,508.0 129.0,507.8 130.0,507.7 131.0,507.6 132.0,507.5 133.0,507.3 134.0,507.2 135.0,507.1 136.0,506.9 137.0,506.8 138.0,506.6 139.0,506.5 140.0,506.3 141.0,506.1 142.0,506.0 143.0,505.8 144.0,505.6 145.0,505.4 146.0,505.3 147.0,505.1 148.0,504.9 149.0,504.7 150.0,504.5 151.0,504.3 152.0,504.1 153.0,503.9 154.0,503.7 155.0,503.4 156.0,503.2 157.0,503.0 158.0,502.8 159.0,502.5 160.0,502.3 161.0,502.0 162.0,501.8 163.0,501.6 164.0,501.3 165.0,501.0 166.0,500.8 167.0,500.5 168.0,500.3 169.0,500.0 170.0,499.7 171.0,499.4 172.0,499.1 173.0,498.9 174.0,498.6 175.0,498.3 176.0,498.0 177.0,497.7 178.0,497.4 179.0,497.1 180.0,496.8 181.0,496.5 182.0,496.1 183.1,495.8 184.1,495.5 185.1,495.2 186.1,494.8 187.1,494.5 188.1,494.2 189.1,493.8 190.1,493.5 191.1,493.1 192.1,492.8 193.1,492.4 194.1,492.1 195.1,491.7 196.1,491.3 197.1,491.0 198.1,490.6 199.1,490.2 200.1,489.8 201.1,489.5 202.1,489.1 203.1,488.7 204.1,488.3 205.1,487.9 206.1,487.5 207.1,487.1 208.1,486.7 209.1,486.3 210.1,485.9 211.1,485.5 212.1,485.1 213.1,484.7 214.1,484.2 215.1,483.8 216.1,483.4 217.1,483.0 218.1,482.6 219.1,482.1 220.1,481.7 221.1,481.3 222.1,480.8 223.1,480.4 224.1,480.0 225.1,479.5 226.1,479.1 227.1,478.6 228.1,478.2 229.1,477.7 230.1,477.3 231.1,476.8 232.1,476.4 233.1,475.9 234.1,475.5 235.1,475.0 236.1,474.6 237.1,474.1 238.1,473.7 239.1,473.2 240.1,472.7 241.1,472.3 242.1,471.8 243.1,471.4 244.1,470.9 245.1,470.4 246.1,470.0 247.1,469.5 248.1,469.0 249.1,468.6 250.1,468.1 251.1,467.6 252.1,467.2 253.1,466.7 254.1,466.2 255.1,465.7 256.1,465.3 257.1,464.8 258.1,464.3 259.1,463.9 260.1,463.4 261.1,462.9 262.1,462.4 263.1,462.0 264.1,461.5 265.1,461.0 266.1,460.6 267.1,460.1 268.1,459.6 269.1,459.2 270.1,458.7 271.1,458.2 272.1,457.8 273.1,457.3 274.1,456.8 275.1,456.4 276.1,455.9 277.1,455.4 278.1,455.0 279.1,454.5 280.1,454.0 281.1,453.6 282.1,453.1 283.1,452.7 284.1,452.2 285.1,451.7 286.1,451.3 287.1,450.8 288.1,450.4 289.1,449.9 290.1,449.5 291.1,449.0 292.1,448.6 293.1,448.1 294.1,447.7 295.1,447.2 296.1,446.8 297.1,446.3 298.1,445.9 299.1,445.4 300.1,445.0 301.1,444.5 302.1,444.1 303.1,443.6 304.1,443.2 305.1,442.8 306.1,442.3 307.1,441.9 308.1,441.4 309.1,441.0 310.1,440.6 311.1,440.1 312.1,439.7 313.1,439.3 314.1,438.8 315.1,438.4 316.1,438.0 317.1,437.5 318.1,437.1 319.1,436.7 320.1,436.2 321.1,435.8 322.1,435.4 323.1,435.0 324.1,434.5 325.1,434.1 326.1,433.7 327.1,433.3 328.1,432.8 329.1,432.4 330.1,432.0 331.1,431.6 332.1,431.2 333.1,430.8 334.1,430.3 335.1,429.9 336.1,429.5 337.1,429.1 338.1,428.7 339.1,428.3 340.1,427.9 341.1,427.5 342.1,427.1 343.1,426.7 344.1,426.2 345.1,425.8 346.1,425.4 347.1,425.0 348.1,424.6 349.1,424.2 350.1,423.8 351.1,423.4 352.1,423.0 353.1,422.7 354.1,422.3 355.1,421.9 356.1,421.5 357.1,421.1 358.1,420.7 359.1,420.3 360.1,419.9 361.1,419.5 362.1,419.1 363.1,418.8 364.1,418.4 365.1,418.0 366.1,417.6 367.1,417.2 368.1,416.9 369.1,416.5 370.1,416.1 371.1,415.7 372.1,415.4 373.1,415.0 374.1,414.6 375.1,414.3 376.1,413.9 377.1,413.5 378.1,413.1 379.1,412.8 380.2,412.4 381.2,412.1 382.2,411.7 383.2,411.3 384.2,411.0 385.2,410.6 386.2,410.3 387.2,409.9 388.2,409.6 389.2,409.2 390.2,408.9 391.2,408.5 392.2,408.2 393.2,407.8 394.2,407.5 395.2,407.1 396.2,406.8 397.2,406.4 398.2,406.1 399.2,405.7 400.2,405.4 401.2,405.1 402.2,404.7 403.2,404.4 404.2,404.1 405.2,403.7 406.2,403.4 407.2,403.1 408.2,402.8 409.2,402.4 410.2,402.1 411.2,401.8 412.2,401.5 413.2,401.1 414.2,400.8 415.2,400.5 416.2,400.2 417.2,399.9 418.2,399.6 419.2,399.2 420.2,398.9 421.2,398.6 422.2,398.3 423.2,398.0 424.2,397.7 425.2,397.4 426.2,397.1 427.2,396.8 428.2,396.5 429.2,396.2 430.2,395.9 431.2,395.6 432.2,395.3 433.2,395.0 434.2,394.7 435.2,394.4 436.2,394.2 437.2,393.9 438.2,393.6 439.2,393.3 440.2,393.0 441.2,392.7 442.2,392.5 443.2,392.2 444.2,391.9 445.2,391.6 446.2,391.4 447.2,391.1 448.2,390.8 449.2,390.6 450.2,390.3 451.2,390.0 452.2,389.8 453.2,389.5 454.2,389.2 455.2,389.0 456.2,388.7 457.2,388.5 458.2,388.2 459.2,388.0 460.2,387.7 461.2,387.5 462.2,387.2 463.2,387.0 464.2,386.7 465.2,386.5 466.2,386.3 467.2,386.0 468.2,385.8 469.2,385.5 470.2,385.3 471.2,385.1 472.2,384.8 473.2,384.6 474.2,384.4 475.2,384.2 476.2,383.9 477.2,383.7 478.2,383.5" stroke="#000" stroke-width="2.0" stroke-dasharray="11.7 5.3" fill="none" stroke-dashoffset="0.37" stroke-linejoin="round"/>
<path d="M84.0,508.8 85.0,508.8 86.0,508.8 87.0,508.8 88.0,508.8 89.0,508.8 90.0,508.8 91.0,508.8 92.0,508.8 93.0,508.8 94.0,508.8 95.0,508.8 96.0,508.8 97.0,508.8 98.0,508.8 99.0,508.8 100.0,508.8 101.0,508.8 102.0,508.8 103.0,508.8 104.0,508.8 105.0,508.8 106.0,508.8 107.0,508.8 108.0,508.8 109.0,508.7 110.0,508.7 111.0,508.6 112.0,508.5 113.0,508.4 114.0,508.4 115.0,508.3 116.0,508.2 117.0,508.1 118.0,508.0 119.0,507.9 120.0,507.8 121.0,507.6 122.0,507.5 123.0,507.4 124.0,507.2 125.0,507.1 126.0,506.9 127.0,506.8 128.0,506.6 129.0,506.4 130.0,506.2 131.0,506.1 132.0,505.9 133.0,505.7 134.0,505.4 135.0,505.2 136.0,505.0 137.0,504.8 138.0,504.5 139.0,504.3 140.0,504.0 141.0,503.7 142.0,503.5 143.0,503.2 144.0,502.9 145.0,502.6 146.0,502.3 147.0,502.0 148.0,501.6 149.0,501.3 150.0,501.0 151.0,500.6 152.0,500.3 153.0,499.9 154.0,499.5 155.0,499.1 156.0,498.8 157.0,498.4 158.0,498.0 159.0,497.6 160.0,497.1 161.0,496.7 162.0,496.3 163.0,495.9 164.0,495.4 165.0,495.0 166.0,494.5 167.0,494.0 168.0,493.5 169.0,493.1 170.0,492.6 171.0,492.1 172.0,491.6 173.0,491.1 174.0,490.5 175.0,490.0 176.0,489.5 177.0,488.9 178.0,488.4 179.0,487.8 180.0,487.3 181.0,486.7 182.0,486.1 183.1,485.5 184.1,484.9 185.1,484.3 186.1,483.7 187.1,483.1 188.1,482.5 189.1,481.9 190.1,481.3 191.1,480.6 192.1,480.0 193.1,479.4 194.1,478.7 195.1,478.1 196.1,477.4 197.1,476.8 198.1,476.1 199.1,475.4 200.1,474.8 201.1,474.1 202.1,473.4 203.1,472.7 204.1,472.1 205.1,471.4 206.1,470.7 207.1,470.0 208.1,469.3 209.1,468.6 210.1,467.9 211.1,467.2 212.1,466.6 213.1,465.9 214.1,465.2 215.1,464.5 216.1,463.8 217.1,463.1 218.1,462.4 219.1,461.7 220.1,461.0 221.1,460.3 222.1,459.6 223.1,458.9 224.1,458.2 225.1,457.5 226.1,456.9 227.1,456.2 228.1,455.5 229.1,454.8 230.1,454.1 231.1,453.5 232.1,452.8 233.1,452.1 234.1,451.5 235.1,450.8 236.1,450.1 237.1,449.5 238.1,448.8 239.1,448.2 240.1,447.6 241.1,446.9 242.1,446.3 243.1,445.6 244.1,445.0 245.1,444.4 246.1,443.8 247.1,443.2 248.1,442.5 249.1,441.9 250.1,441.3 251.1,440.7 252.1,440.1 253.1,439.5 254.1,439.0 255.1,438.4 256.1,437.8 257.1,437.2 258.1,436.6 259.1,436.1 260.1,435.5 261.1,434.9 262.1,434.4 263.1,433.8 264.1,433.3 265.1,432.7 266.1,432.2 267.1,431.6 268.1,431.1 269.1,430.5 270.1,430.0 271.1,429.5 272.1,429.0 273.1,428.4 274.1,427.9 275.1,427.4 276.1,426.9 277.1,426.4 278.1,425.9 279.1,425.4 280.1,424.9 281.1,424.4 282.1,423.9 283.1,423.4 284.1,423.0 285.1,422.5 286.1,422.0 287.1,421.5 288.1,421.1 289.1,420.6 290.1,420.2 291.1,419.7 292.1,419.3 293.1,418.8 294.1,418.4 295.1,417.9 296.1,417.5 297.1,417.0 298.1,416.6 299.1,416.2 300.1,415.8 301.1,415.3 302.1,414.9 303.1,414.5 304.1,414.1 305.1,413.7 306.1,413.3 307.1,412.9 308.1,412.5 309.1,412.1 310.1,411.7 311.1,411.3 312.1,410.9 313.1,410.5 314.1,410.1 315.1,409.7 316.1,409.4 317.1,409.0 318.1,408.6 319.1,408.2 320.1,407.9 321.1,407.5 322.1,407.2 323.1,406.8 324.1,406.4 325.1,406.1 326.1,405.7 327.1,405.4 328.1,405.1 329.1,404.7 330.1,404.4 331.1,404.0 332.1,403.7 333.1,403.4 334.1,403.0 335.1,402.7 336.1,402.4 337.1,402.1 338.1,401.7 339.1,401.4 340.1,401.1 341.1,400.8 342.1,400.5 343.1,400.2 344.1,399.9 345.1,399.6 346.1,399.3 347.1,399.0 348.1,398.7 349.1,398.4 350.1,398.1 351.1,397.8 352.1,397.5 353.1,397.2 354.1,396.9 355.1,396.7 356.1,396.4 357.1,396.1 358.1,395.8 359.1,395.5 360.1,395.3 361.1,395.0 362.1,394.7 363.1,394.5 364.1,394.2 365.1,393.9 366.1,393.7 367.1,393.4 368.1,393.2 369.1,392.9 370.1,392.7 371.1,392.4 372.1,392.1 373.1,391.9 374.1,391.6 375.1,391.4 376.1,391.2 377.1,390.9 378.1,390.7 379.1,390.4 380.2,390.2 381.2,390.0 382.2,389.7 383.2,389.5 384.2,389.2 385.2,389.0 386.2,388.8 387.2,388.6 388.2,388.3 389.2,388.1 390.2,387.9 391.2,387.7 392.2,387.4 393.2,387.2 394.2,387.0 395.2,386.8 396.2,386.5 397.2,386.3 398.2,386.1 399.2,385.9 400.2,385.7 401.2,385.5 402.2,385.3 403.2,385.0 404.2,384.8 405.2,384.6 406.2,384.4 407.2,384.2 408.2,384.0 409.2,383.8 410.2,383.6 411.2,383.4 412.2,383.2 413.2,383.0 414.2,382.8 415.2,382.6 416.2,382.4 417.2,382.2 418.2,382.0 419.2,381.8 420.2,381.6 421.2,381.4 422.2,381.2 423.2,381.0 424.2,380.8 425.2,380.6 426.2,380.4 427.2,380.2 428.2,380.0 429.2,379.8 430.2,379.6 431.2,379.4 432.2,379.2 433.2,379.0 434.2,378.8 435.2,378.6 436.2,378.5 437.2,378.3 438.2,378.1 439.2,377.9 440.2,377.7 441.2,377.5 442.2,377.3 443.2,377.1 444.2,376.9 445.2,376.7 446.2,376.5 447.2,376.4 448.2,376.2 449.2,376.0 450.2,375.8 451.2,375.6 452.2,375.4 453.2,375.2 454.2,375.0 455.2,374.8 456.2,374.6 457.2,374.4 458.2,374.2 459.2,374.0 460.2,373.9 461.2,373.7 462.2,373.5 463.2,373.3 464.2,373.1 465.2,372.9 466.2,372.7 467.2,372.5 468.2,372.3 469.2,372.1 470.2,371.9 471.2,371.7 472.2,371.5 473.2,371.3 474.2,371.1 475.2,370.9 476.2,370.7 477.2,370.5 478.2,370.3" stroke="#000" stroke-width="2.0" fill="none" stroke-linejoin="round"/>
<path d="M84.0,356.70000000000005V508.8H478.2" stroke="#000" stroke-width="1.6" fill="none"/>
<line x1="78.6" y1="508.80" x2="84.0" y2="508.80" stroke="#000" stroke-width="1.6"/>
<text x="68.4" y="514.90" text-anchor="end" class="tl">0%</text>
<line x1="78.6" y1="470.78" x2="84.0" y2="470.78" stroke="#000" stroke-width="1.6"/>
<text x="68.4" y="476.88" text-anchor="end" class="tl">20%</text>
<line x1="78.6" y1="432.75" x2="84.0" y2="432.75" stroke="#000" stroke-width="1.6"/>
<text x="68.4" y="438.85" text-anchor="end" class="tl">40%</text>
<line x1="78.6" y1="394.73" x2="84.0" y2="394.73" stroke="#000" stroke-width="1.6"/>
<text x="68.4" y="400.83" text-anchor="end" class="tl">60%</text>
<line x1="78.6" y1="356.70" x2="84.0" y2="356.70" stroke="#000" stroke-width="1.6"/>
<text x="68.4" y="362.80" text-anchor="end" class="tl">80%</text>
<line x1="84.00" y1="508.8" x2="84.00" y2="513.8" stroke="#000" stroke-width="1.6"/>
<text x="84.40" y="536.90" text-anchor="middle" class="tl">0</text>
<line x1="127.80" y1="508.8" x2="127.80" y2="513.8" stroke="#000" stroke-width="1.6"/>
<text x="128.20" y="536.90" text-anchor="middle" class="tl">10</text>
<line x1="171.60" y1="508.8" x2="171.60" y2="513.8" stroke="#000" stroke-width="1.6"/>
<text x="172.00" y="536.90" text-anchor="middle" class="tl">20</text>
<line x1="215.40" y1="508.8" x2="215.40" y2="513.8" stroke="#000" stroke-width="1.6"/>
<text x="215.80" y="536.90" text-anchor="middle" class="tl">30</text>
<line x1="259.20" y1="508.8" x2="259.20" y2="513.8" stroke="#000" stroke-width="1.6"/>
<text x="259.60" y="536.90" text-anchor="middle" class="tl">40</text>
<line x1="303.00" y1="508.8" x2="303.00" y2="513.8" stroke="#000" stroke-width="1.6"/>
<text x="303.40" y="536.90" text-anchor="middle" class="tl">50</text>
<line x1="346.80" y1="508.8" x2="346.80" y2="513.8" stroke="#000" stroke-width="1.6"/>
<text x="347.20" y="536.90" text-anchor="middle" class="tl">60</text>
<line x1="390.60" y1="508.8" x2="390.60" y2="513.8" stroke="#000" stroke-width="1.6"/>
<text x="391.00" y="536.90" text-anchor="middle" class="tl">70</text>
<line x1="434.40" y1="508.8" x2="434.40" y2="513.8" stroke="#000" stroke-width="1.6"/>
<text x="434.80" y="536.90" text-anchor="middle" class="tl">80</text>
<line x1="478.20" y1="508.8" x2="478.20" y2="513.8" stroke="#000" stroke-width="1.6"/>
<text x="478.60" y="536.90" text-anchor="middle" class="tl">90</text>
<text x="282" y="560.6" text-anchor="middle" class="al">Reaction time (min)</text>
<line x1="478.2" y1="356.70000000000005" x2="478.2" y2="508.8" stroke="#C00000" stroke-width="1.6"/>
<line x1="478.2" y1="508.80" x2="483.8" y2="508.80" stroke="#C00000" stroke-width="1.6"/>
<text x="494.59999999999997" y="514.50" class="tl rd">20</text>
<line x1="478.2" y1="458.10" x2="483.8" y2="458.10" stroke="#C00000" stroke-width="1.6"/>
<text x="494.59999999999997" y="463.80" class="tl rd">30</text>
<line x1="478.2" y1="407.40" x2="483.8" y2="407.40" stroke="#C00000" stroke-width="1.6"/>
<text x="494.59999999999997" y="413.10" class="tl rd">40</text>
<line x1="478.2" y1="356.70" x2="483.8" y2="356.70" stroke="#C00000" stroke-width="1.6"/>
<text x="494.59999999999997" y="362.40" class="tl rd">50</text>
<text transform="translate(542,424.4) rotate(-90)" text-anchor="middle" class="al rd">Processing temperature (°C)</text>
<text transform="translate(23,433.0) rotate(-90)" text-anchor="middle" class="al">Degree of cure (-)</text>
<text x="9.6" y="312.1" class="al">(b)</text>
</svg></body></html>
